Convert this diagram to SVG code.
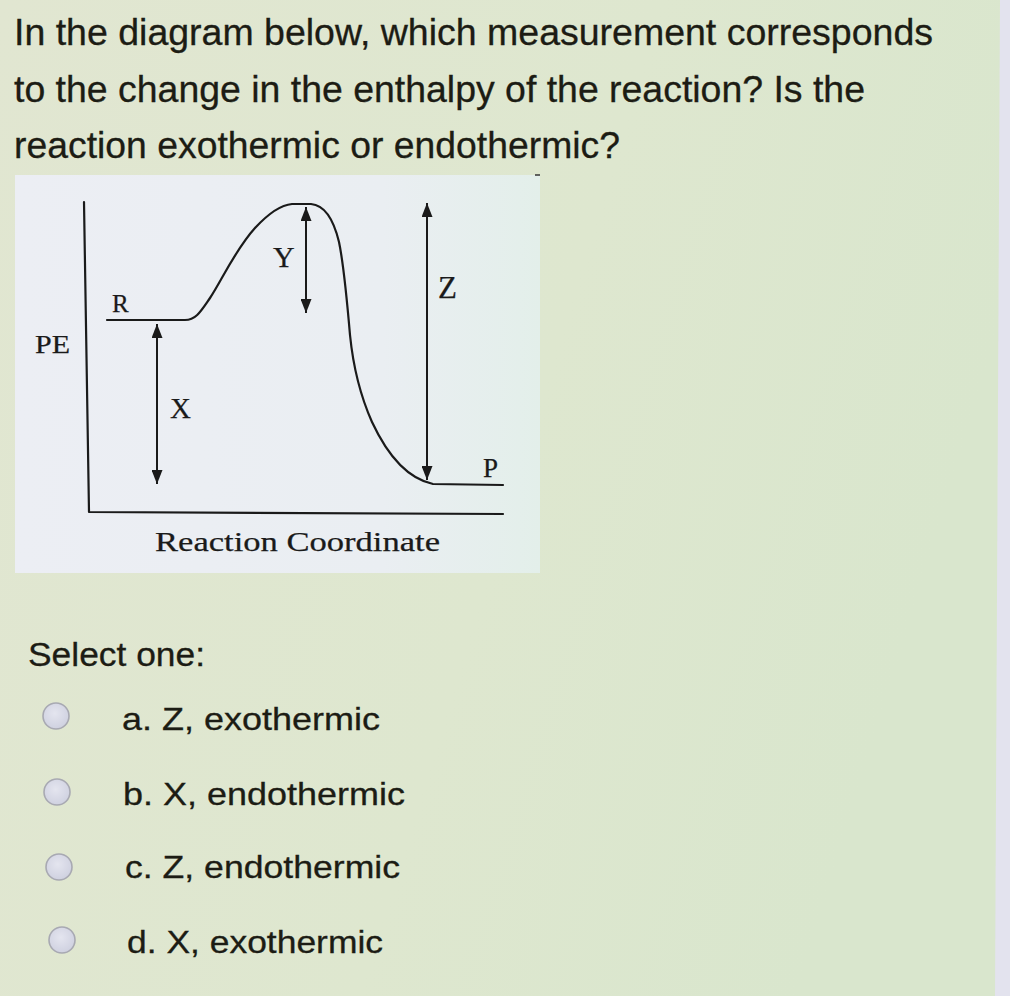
<svg xmlns="http://www.w3.org/2000/svg" width="1010" height="996" viewBox="0 0 1010 996">
  <defs>
    <linearGradient id="bg" x1="0" y1="0" x2="1" y2="0.3">
      <stop offset="0" stop-color="#e1e6d1"/>
      <stop offset="0.6" stop-color="#dee7cf"/>
      <stop offset="1" stop-color="#d9e6cd"/>
    </linearGradient>
    <linearGradient id="box" x1="0" y1="0" x2="1" y2="0">
      <stop offset="0" stop-color="#eceef4"/>
      <stop offset="0.7" stop-color="#eaeef2"/>
      <stop offset="1" stop-color="#e3efea"/>
    </linearGradient>
    <radialGradient id="radio" cx="0.45" cy="0.4" r="0.6">
      <stop offset="0" stop-color="#e4e5ef"/>
      <stop offset="1" stop-color="#cfd1e0"/>
    </radialGradient>
    <marker id="ah" viewBox="0 0 14 11" refX="14" refY="5.5" markerWidth="14" markerHeight="11" markerUnits="userSpaceOnUse" orient="auto-start-reverse">
      <path d="M0,0 L14,5.5 L0,11 Z" fill="#1a1a1a"/>
    </marker>
  </defs>
  <style>
    .q { font-family: "Liberation Sans", Arial, sans-serif; fill: #1c1c14; stroke: #1c1c14; stroke-width: 0.3; }
    .t { font-size: 37px; }
    .o { font-size: 32px; }
    .lbl { font-family: "Liberation Serif", "Times New Roman", serif; fill: #1a1a1a; stroke: #1a1a1a; stroke-width: 0.25; }
    .ln { fill: none; stroke: #1a1a1a; stroke-width: 2.2; stroke-linecap: round; stroke-linejoin: round; }
    .arr { fill: none; stroke: #1a1a1a; stroke-width: 2; marker-start: url(#ah); marker-end: url(#ah); }
    .rb { fill: url(#radio); stroke: #a8a9b2; stroke-width: 1.6; }
  </style>

  <rect x="0" y="0" width="1010" height="996" fill="url(#bg)"/>
  <path d="M1000,0 L1010,0 L1010,996 L995,996 Z" fill="#e3e3ee"/>

  <g id="question">
    <text class="q t" x="14" y="45" textLength="919" lengthAdjust="spacingAndGlyphs">In the diagram below, which measurement corresponds</text>
    <text class="q t" x="14" y="102" textLength="851" lengthAdjust="spacingAndGlyphs">to the change in the enthalpy of the reaction? Is the</text>
    <text class="q t" x="14" y="158" textLength="606" lengthAdjust="spacingAndGlyphs">reaction exothermic or endothermic?</text>
  </g>

  <g id="diagram">
    <rect x="15" y="175" width="525" height="398" fill="url(#box)"/>
    <line x1="535" y1="175" x2="540" y2="175" stroke="#333" stroke-width="1.5"/>
    <g id="axes">
      <path class="ln" d="M84,202 L89,512 L503,514"/>
    </g>
    <g id="curve">
      <path class="ln" d="M107,320 L185,320 C196,320 201,311 210,298 C222,280 235,250 255,228 C268,214 280,205 292,204 L311,204 C323,205 333,217 339,242 C344,266 347,300 350,335 C353,365 360,395 372,422 C386,452 405,478 433,484 L503,485"/>
    </g>
    <g id="labels">
      <text class="lbl" x="35" y="353" font-size="26" textLength="35" lengthAdjust="spacingAndGlyphs">PE</text>
      <text class="lbl" x="112" y="312" font-size="25">R</text>
      <text class="lbl" x="170" y="418" font-size="29">X</text>
      <text class="lbl" x="273" y="267" font-size="30">Y</text>
      <text class="lbl" x="438" y="298" font-size="31">Z</text>
      <text class="lbl" x="483" y="477" font-size="27">P</text>
      <text class="lbl" x="155" y="551" font-size="28" textLength="285" lengthAdjust="spacingAndGlyphs">Reaction Coordinate</text>
    </g>
  </g>

  <g id="connectors">
    <path class="arr" d="M157,324 L157,484"/>
    <path class="arr" d="M306,207 L306,313"/>
    <path class="arr" d="M427,203 L427,480"/>
  </g>

  <g id="options">
    <text class="q" x="28" y="666" font-size="33" textLength="177" lengthAdjust="spacingAndGlyphs">Select one:</text>
    <g id="opt-a">
      <circle class="rb" cx="56" cy="716" r="13"/>
      <text class="q o" x="122" y="730" textLength="258" lengthAdjust="spacingAndGlyphs">a. Z, exothermic</text>
    </g>
    <g id="opt-b">
      <circle class="rb" cx="57" cy="792" r="13"/>
      <text class="q o" x="123" y="805" textLength="282" lengthAdjust="spacingAndGlyphs">b. X, endothermic</text>
    </g>
    <g id="opt-c">
      <circle class="rb" cx="59" cy="867" r="13"/>
      <text class="q o" x="125" y="878" textLength="275" lengthAdjust="spacingAndGlyphs">c. Z, endothermic</text>
    </g>
    <g id="opt-d">
      <circle class="rb" cx="62" cy="940" r="13"/>
      <text class="q o" x="127" y="953" textLength="256" lengthAdjust="spacingAndGlyphs">d. X, exothermic</text>
    </g>
  </g>
</svg>
